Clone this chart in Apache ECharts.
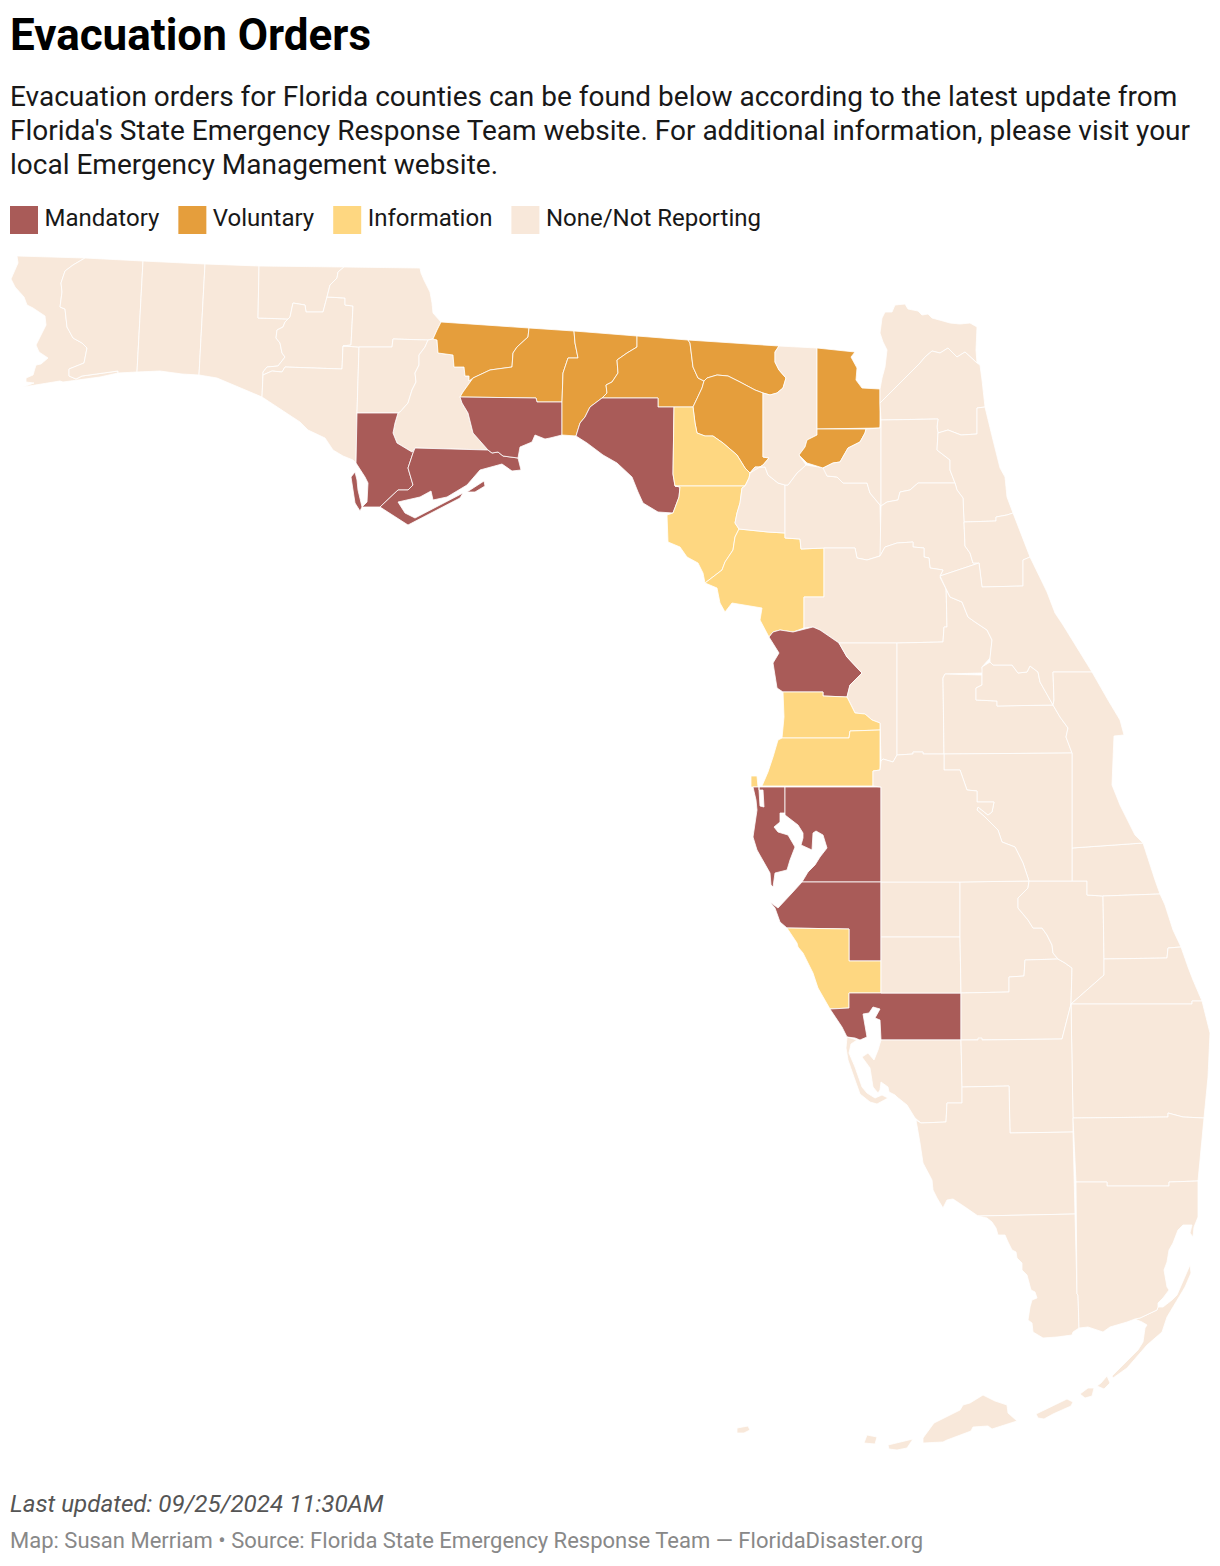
<!DOCTYPE html>
<html><head><meta charset="utf-8">
<style>html,body{margin:0;padding:0;background:#fff}#c{width:1220px;height:1566px}</style>
<script src="https://cdn.jsdelivr.net/npm/echarts@6/dist/echarts.min.js"></script>
</head><body><div id="c"></div>
<script>
const mandatoryCounties=["Gulf","Franklin","Wakulla","Taylor","Citrus","Pinellas","Hillsborough","Manatee","Charlotte"];
const voluntaryCounties=["Gadsden","Leon","Jefferson","Madison","Hamilton","Suwannee","Baker","Union"];
const informationCounties=["Lafayette","Dixie","Levy","Hernando","Pasco","Sarasota"];
const noneCounties=["Escambia","Santa Rosa","Okaloosa","Walton","Holmes","Washington","Bay","Jackson","Calhoun","Liberty","Gilchrist","Alachua","Columbia","Nassau","Duval","Bradford","Clay","St. Johns","Putnam","Flagler","Marion","Sumter","Lake","Orange","Seminole","Volusia","Brevard","Osceola","Polk","Hardee","DeSoto","Highlands","Glades","Okeechobee","Indian River","St. Lucie","Martin","Palm Beach","Hendry","Lee","Collier","Monroe","Broward","Miami-Dade"];
const legendLabels=["Mandatory","Voluntary","Information","None/Not Reporting"];
const legendColors=["#a95b58","#e59e3c","#fed781","#f8e8da"];

const countyShapes={
"Escambia":[[17,256,85,258,73,265,65,271,61,283,62,292,60,307,65,309,67,327,73,338,82,343,87,348,84,363,69,369,69,376,76,379,82,376,118,371,118,373,100,377,63,382,60,381,23,387,34,383,26,382,26,378,33,375,36,365,41,364,48,358,39,352,36,345,41,335,46,325,45,316,33,308,27,305,24,297,15,287,11,279,18,263]],
"Santa Rosa":[[85,258,143,261,137,372,118,373,118,371,82,376,76,379,69,376,69,369,84,363,87,348,82,343,73,338,67,327,65,309,60,307,62,292,61,283,65,271,73,265]],
"Okaloosa":[[143,261,205,264,199,375,182,374,160,371,137,372]],
"Walton":[[205,264,259,266,258,318,288,319,285,322,283,327,277,330,276,338,280,343,282,353,285,357,278,366,267,367,263,372,263,375,262,397,217,378,199,375]],
"Holmes":[[259,266,344,267,338,272,337,278,330,285,327,297,323,312,306,312,305,305,293,303,290,317,288,319,258,318]],
"Washington":[[288,319,290,317,293,303,305,305,306,312,323,312,327,297,345,298,345,305,353,306,351,345,343,346,342,369,285,367,282,372,272,371,263,375,263,372,267,367,278,366,285,357,282,353,280,343,276,338,277,330,283,327,285,322]],
"Bay":[[263,375,272,371,282,372,285,367,342,369,343,346,359,347,357,413,356,463,353,460,343,456,333,450,325,438,308,430,300,422,262,397]],
"Jackson":[[344,267,420,268,421,273,424,280,430,292,432,303,433,313,441,322,437,330,433,339,428,340,393,339,392,347,359,347,343,346,351,345,353,306,345,305,345,298,327,297,330,285,337,278,338,272]],
"Calhoun":[[359,347,392,347,393,339,428,340,425,347,419,355,419,365,415,373,416,382,412,390,408,403,400,412,398,413,357,413]],
"Liberty":[[428,340,433,339,437,340,438,353,453,355,454,367,464,367,465,376,469,376,469,381,473,378,463,392,460,397,462,403,468,413,473,433,488,450,415,448,412,452,397,443,393,433,395,423,398,413,400,412,408,403,412,390,416,382,415,373,419,365,419,355,425,347]],
"Gulf":[[357,413,398,413,395,423,393,433,397,443,412,452,415,448,413,453,408,468,413,485,408,490,398,490,380,507,362,507,367,502,368,483,365,477,356,463],[355,472,351,477,355,503,360,511,362,507,358,490,357,480]],
"Franklin":[[415,448,488,450,492,453,498,452,503,456,518,458,521,470,512,471,502,464,480,470,467,485,447,497,433,500,431,491,420,497,398,502,405,513,415,518,463,493,460,498,408,525,380,507,398,490,408,490,413,485,408,468,413,453],[467,492,484,481,485,486,475,492]],
"Gadsden":[[441,322,529,328,528,337,517,347,513,353,512,367,490,370,473,378,469,381,469,376,465,376,464,367,454,367,453,355,438,353,437,340,433,339,437,330]],
"Leon":[[529,328,574,331,575,343,578,358,568,358,563,373,562,402,537,402,536,398,460,397,463,392,473,378,490,370,512,367,513,353,517,347,528,337]],
"Wakulla":[[460,397,536,398,537,402,562,402,562,435,550,438,545,439,535,435,532,442,520,447,518,458,503,456,498,452,492,453,488,450,473,433,468,413,462,403]],
"Jefferson":[[574,331,637,336,637,347,627,353,617,360,618,373,612,382,606,385,607,393,602,398,590,407,585,417,580,423,576,436,562,435,562,402,563,373,568,358,578,358,575,343]],
"Madison":[[637,336,688,340,690,343,693,367,698,378,704,381,702,388,693,407,674,407,658,407,658,398,602,398,607,393,606,385,612,382,618,373,617,360,627,353,637,347]],
"Taylor":[[602,398,658,398,658,407,674,407,673,474,675,486,680,487,679,497,673,513,658,512,643,503,638,492,632,477,617,463,603,455,587,443,576,436,580,423,585,417,590,407]],
"Hamilton":[[688,340,779,346,775,352,775,362,779,370,786,378,783,388,777,393,770,395,763,393,755,390,740,382,728,376,717,375,707,378,704,381,698,378,693,367,690,343]],
"Suwannee":[[704,381,707,378,717,375,728,376,740,382,755,390,763,393,763,457,769,458,763,465,750,473,745,468,737,455,723,443,713,436,705,436,697,433,695,423,693,407,702,388]],
"Lafayette":[[674,407,693,407,695,423,697,433,705,436,713,436,723,443,737,455,745,468,750,473,749,478,745,486,675,486,673,474]],
"Dixie":[[675,486,745,486,742,488,740,503,737,513,735,523,739,529,735,537,733,550,725,562,722,570,705,583,703,573,698,563,687,557,680,547,668,542,667,515,673,513,679,497,680,487]],
"Levy":[[739,529,768,532,785,533,785,538,800,539,801,549,824,548,824,597,804,597,804,628,793,632,780,630,773,632,769,637,760,620,762,608,732,603,725,612,720,603,717,588,705,583,722,570,725,562,733,550,735,537]],
"Gilchrist":[[739,529,735,523,737,513,740,503,742,488,745,486,749,478,750,473,755,467,765,467,768,475,778,483,785,485,785,533,768,532]],
"Alachua":[[785,485,788,485,797,473,806,465,825,468,827,476,837,477,843,483,867,483,870,493,880,505,881,553,880,556,867,560,857,558,855,548,824,548,801,549,800,539,785,538,785,533]],
"Columbia":[[779,346,817,348,817,435,807,440,805,447,799,455,806,465,797,473,788,485,785,485,778,483,768,475,765,467,755,467,750,473,763,465,769,458,763,457,763,393,770,395,777,393,783,388,786,378,779,370,775,362,775,352]],
"Baker":[[817,348,855,352,851,357,857,368,856,380,862,388,880,389,880,428,817,429]],
"Nassau":[[880,389,880,403,920,363,925,357,932,351,940,353,948,348,957,357,965,352,977,363,976,350,977,327,970,323,960,324,950,323,943,321,932,318,928,314,922,315,918,311,908,309,905,304,895,305,892,312,885,312,882,318,880,333,883,342,887,350,885,367,882,378]],
"Duval":[[880,403,920,363,925,357,932,351,940,353,948,348,957,357,965,352,977,363,980,365,982,380,985,407,977,408,977,434,961,435,948,430,938,433,937,427,938,419,881,420,880,403]],
"Union":[[817,429,866,429,865,433,860,442,848,448,840,462,833,463,823,468,807,463,799,455,805,447,807,440,817,435]],
"Bradford":[[866,429,880,428,881,420,881,506,880,505,870,493,867,483,843,483,837,477,827,476,823,468,833,463,840,462,848,448,860,442,865,433]],
"Clay":[[881,420,938,419,937,427,938,433,937,450,950,460,950,470,955,483,918,483,910,490,900,492,898,500,887,502,881,506]],
"St. Johns":[[938,433,948,430,961,435,977,434,977,408,985,407,993,440,1000,468,1005,477,1007,497,1013,513,1007,515,996,517,996,521,964,522,963,498,957,490,955,483,950,470,950,460,937,450]],
"Putnam":[[881,506,887,502,898,500,900,492,910,490,918,483,955,483,957,490,963,498,964,522,965,546,970,553,973,563,979,563,940,576,943,570,930,568,929,558,924,557,924,548,913,547,913,542,897,543,885,547,880,556]],
"Flagler":[[964,522,996,521,996,517,1007,515,1013,513,1030,557,1023,560,1023,586,982,587,979,563,973,563,970,553,965,546]],
"Marion":[[824,548,855,548,857,558,867,560,880,556,885,547,897,543,913,542,913,547,924,548,924,557,929,558,930,568,943,570,940,576,946,583,947,627,944,627,943,642,897,643,839,643,820,630,813,627,804,628,804,597,824,597]],
"Citrus":[[769,637,773,632,780,630,793,632,813,627,820,630,839,643,847,657,862,673,850,685,847,697,823,696,823,692,783,692,777,688,773,663,779,653]],
"Sumter":[[839,643,897,643,897,755,893,762,883,759,881,761,880,723,872,720,865,714,855,713,847,697,850,685,862,673,847,657]],
"Hernando":[[783,692,823,692,823,696,847,697,855,713,865,714,872,720,880,723,880,730,850,731,849,738,782,738,784,717]],
"Pasco":[[782,738,849,738,850,731,880,730,880,770,873,771,873,786,762,786,768,772,773,757,778,740],[751,776,757,776,758,787,751,787]],
"Pinellas":[[753,787,759,787,759,790,760,806,764,807,763,790,759,790,759,787,785,787,785,813,780,813,780,822,774,827,778,832,788,835,795,847,790,860,787,870,775,873,773,887,771,885,770,873,757,850,753,837,757,810,756,800]],
"Hillsborough":[[785,787,881,787,881,882,802,882,808,872,815,865,820,857,827,848,823,835,816,831,813,833,812,850,801,845,803,838,803,833,798,825,785,815]],
"Manatee":[[802,882,881,882,881,961,849,961,849,929,787,928,780,922,775,908,770,902,778,908,792,893]],
"Sarasota":[[787,928,849,929,849,961,881,961,881,993,849,993,849,1008,830,1009,818,988,813,973,803,953,798,947,797,943]],
"Charlotte":[[849,993,881,993,961,993,961,1040,881,1040,880,1020,875,1018,880,1009,873,1007,869,1013,863,1014,867,1037,860,1040,855,1038,847,1037,842,1027,830,1009,849,1008]],
"Lee":[[881,1040,961,1040,962,1087,962,1103,947,1103,946,1122,921,1123,915,1118,907,1105,897,1097,895,1095,889,1092,888,1087,881,1082,880,1090,878,1093,873,1087,870,1068,862,1057,868,1053,874,1060,878,1050],[847,1037,857,1040,851,1044,849,1053,855,1067,862,1087,867,1093,875,1098,882,1095,888,1098,877,1104,870,1102,860,1094,855,1080,848,1060,846,1048]],
"Hardee":[[881,882,960,882,960,937,881,937]],
"DeSoto":[[881,937,960,937,961,993,881,993]],
"Highlands":[[960,882,1029,881,1028,888,1018,898,1018,908,1028,920,1033,928,1042,928,1047,935,1052,945,1053,953,1058,959,1025,960,1024,976,1009,977,1009,992,961,993,960,937]],
"Glades":[[961,993,1009,992,1009,977,1024,976,1025,960,1058,959,1065,963,1072,968,1071,1004,1062,1039,961,1040]],
"Okeechobee":[[1029,881,1072,881,1087,881,1087,895,1103,896,1104,959,1104,975,1071,1004,1072,968,1065,963,1058,959,1053,953,1052,945,1047,935,1042,928,1033,928,1028,920,1018,908,1018,898,1028,888]],
"Indian River":[[1072,848,1143,843,1155,880,1160,894,1103,896,1087,895,1087,881,1072,881]],
"St. Lucie":[[1103,896,1160,894,1165,905,1173,930,1181,947,1168,948,1167,958,1104,959]],
"Martin":[[1104,959,1167,958,1168,948,1181,947,1188,967,1193,980,1202,1001,1192,1001,1192,1004,1071,1004,1104,975]],
"Palm Beach":[[1071,1004,1192,1004,1192,1001,1202,1001,1210,1033,1208,1077,1204,1118,1183,1117,1168,1113,1168,1117,1073,1118]],
"Hendry":[[961,1040,978,1040,978,1038,982,1038,982,1040,1062,1039,1071,1004,1073,1118,1073,1132,1010,1133,1009,1086,962,1087]],
"Collier":[[962,1087,1009,1086,1010,1133,1073,1132,1075,1214,978,1216,965,1207,953,1199,947,1200,943,1208,937,1198,933,1190,932,1180,923,1163,920,1143,916,1120,921,1123,946,1122,947,1103,962,1103]],
"Monroe":[[978,1216,1075,1214,1077,1294,1078,1295,1079,1328,1073,1332,1072,1335,1057,1337,1043,1338,1033,1332,1032,1323,1028,1320,1030,1307,1032,1300,1037,1298,1035,1292,1031,1290,1027,1275,1022,1270,1022,1263,1017,1258,1016,1252,1012,1250,1008,1242,1005,1235,998,1235,996,1228,992,1222,987,1218],[1158,1307,1163,1307,1172,1300,1177,1295,1190,1265,1191,1273,1185,1287,1167,1317,1162,1332,1147,1345,1127,1368,1113,1378,1112,1376,1138,1350,1143,1342,1145,1328,1147,1325,1142,1322,1135,1319,1140,1318,1157,1310],[1107,1376,1110,1383,1104,1389,1097,1386,1101,1383],[1080,1394,1088,1388,1094,1388,1092,1396,1085,1398],[1036,1414,1067,1399,1073,1402,1071,1406,1053,1414,1044,1419,1038,1418],[923,1443,923,1438,934,1423,960,1410,963,1405,970,1403,983,1395,995,1401,1007,1405,1008,1413,1017,1421,992,1429,988,1426,973,1427,971,1431,947,1440,943,1442],[888,1445,913,1439,907,1448,897,1450,889,1449],[864,1443,867,1435,877,1437,875,1444],[737,1428,748,1426,750,1430,744,1433,737,1433]],
"Broward":[[1073,1118,1168,1117,1168,1113,1183,1117,1204,1118,1198,1181,1169,1182,1169,1186,1107,1186,1107,1182,1076,1182]],
"Miami-Dade":[[1076,1182,1107,1182,1107,1186,1169,1186,1169,1182,1198,1181,1198,1217,1194,1227,1193,1237,1190,1233,1192,1225,1183,1225,1178,1230,1173,1243,1169,1250,1167,1262,1164,1270,1167,1287,1169,1290,1163,1298,1158,1303,1158,1307,1157,1310,1140,1318,1135,1319,1127,1322,1110,1327,1103,1332,1088,1327,1079,1328,1078,1295,1077,1294]],
"Lake":[[897,643,943,642,944,627,947,627,946,583,940,577,950,597,962,602,968,617,975,622,987,630,992,640,990,658,982,667,983,673,945,674,943,678,944,754,923,754,923,752,913,752,913,754,897,755]],
"Orange":[[945,674,982,675,982,685,976,688,976,700,997,701,997,706,1053,705,1060,717,1068,728,1066,737,1072,753,944,754,943,678]],
"Seminole":[[982,667,990,662,993,665,1012,665,1018,673,1027,672,1030,666,1038,672,1040,682,1053,705,997,706,997,701,976,700,976,688,982,685,982,675]],
"Volusia":[[940,576,979,563,982,587,1023,586,1023,560,1030,557,1047,592,1055,613,1063,625,1092,672,1053,672,1054,700,1053,705,1040,682,1038,672,1030,666,1027,672,1018,673,1012,665,993,665,990,662,990,658,992,640,987,630,975,622,968,617,962,602,950,597]],
"Brevard":[[1053,672,1092,672,1108,700,1120,720,1124,735,1114,736,1113,760,1112,785,1120,805,1135,835,1143,843,1072,848,1072,753,1066,737,1068,728,1060,717,1053,705,1054,700]],
"Osceola":[[944,754,1072,753,1072,848,1072,881,1029,881,1028,878,1023,863,1015,847,1002,842,998,830,985,817,977,810,978,807,988,815,992,812,994,802,977,802,977,791,967,790,960,770,944,770]],
"Polk":[[881,787,873,786,873,771,880,770,881,761,883,759,893,762,897,755,913,754,913,752,923,752,923,754,944,754,944,770,960,770,967,790,977,791,977,802,994,802,992,812,988,815,978,807,977,810,985,817,998,830,1002,842,1015,847,1023,863,1028,878,1029,881,960,882,881,882]]
};

function ringOf(flat){const r=[];for(let i=0;i<flat.length;i+=2)r.push([flat[i],-flat[i+1]]);r.push(r[0]);return r;}
const features=Object.keys(countyShapes).map(n=>({type:"Feature",properties:{name:n},geometry:{type:"MultiPolygon",coordinates:countyShapes[n].map(f=>[ringOf(f)])}}));
let x0=1e9,x1=-1e9,y0=1e9,y1=-1e9;
Object.values(countyShapes).flat().forEach(f=>{for(let i=0;i<f.length;i+=2){x0=Math.min(x0,f[i]);x1=Math.max(x1,f[i]);y0=Math.min(y0,f[i+1]);y1=Math.max(y1,f[i+1]);}});
echarts.registerMap("florida",{type:"FeatureCollection",features});

const statusGroups=[noneCounties,informationCounties,voluntaryCounties,mandatoryCounties];
const mapData=statusGroups.flatMap((g,v)=>g.map(name=>({name,value:v})));
const F="Roboto";
const chart=echarts.init(document.getElementById("c"),null,{renderer:"svg"});
chart.setOption({
 animation:false,
 backgroundColor:"#fff",
 title:[
  {text:"Evacuation Orders",left:10,top:11,padding:0,textStyle:{fontFamily:F,fontSize:44,fontWeight:700,color:"#000",lineHeight:48}},
  {text:"Evacuation orders for Florida counties can be found below according to the latest update from\nFlorida's State Emergency Response Team website. For additional information, please visit your\nlocal Emergency Management website.",left:10,top:79,padding:0,textStyle:{fontFamily:F,fontSize:28,fontWeight:400,color:"#181818",lineHeight:34}},
  {text:"Last updated: 09/25/2024 11:30AM",left:10,top:1490,padding:0,textStyle:{fontFamily:F,fontSize:24.2,fontStyle:"italic",fontWeight:400,color:"#555",lineHeight:27}},
  {text:"Map: Susan Merriam • Source: Florida State Emergency Response Team — FloridaDisaster.org",left:10,top:1527,padding:0,textStyle:{fontFamily:F,fontSize:22,fontWeight:400,color:"#888",lineHeight:26}}
 ],
 visualMap:{type:"piecewise",orient:"horizontal",inverse:true,left:10,top:206,padding:0,itemWidth:28,itemHeight:28,itemGap:19,textGap:6.5,selectedMode:false,hoverLink:false,itemSymbol:"rect",
  textStyle:{fontFamily:F,fontSize:24,color:"#181818",rich:{a:{fontFamily:F,fontSize:24,color:"#181818",padding:[0,0,4,0]}}},
  pieces:legendLabels.map((label,i)=>({value:3-i,label:"{a|"+label+"}",color:legendColors[i]}))},
 series:[{type:"map",map:"florida",aspectScale:1,left:x0,top:y0,width:x1-x0,height:y1-y0,roam:false,silent:true,
  label:{show:false},itemStyle:{borderColor:"#fff",borderWidth:0.8},emphasis:{disabled:true},select:{disabled:true},data:mapData}]
});
</script></body></html>
